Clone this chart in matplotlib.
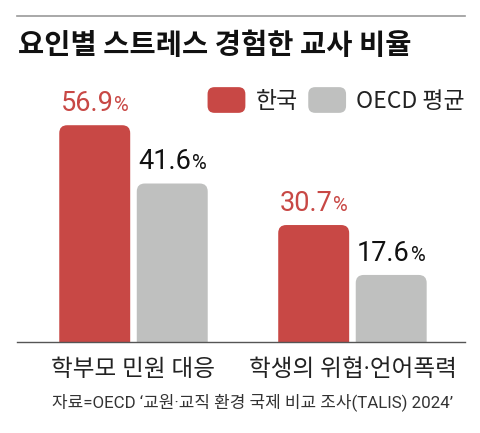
import matplotlib
matplotlib.use("Agg")
import matplotlib.pyplot as plt
from matplotlib.patches import FancyBboxPatch
from matplotlib.legend_handler import HandlerPatch
from matplotlib.offsetbox import TextArea, HPacker, AnnotationBbox
from matplotlib.lines import Line2D

plt.rcParams['font.family'] = ['Noto Sans CJK KR', 'DejaVu Sans']

title = "요인별 스트레스 경험한 교사 비율"
categories = ["학부모 민원 대응", "학생의 위협·언어폭력"]
series_names = ["한국", "OECD 평균"]
korea = [56.9, 30.7]
oecd = [41.6, 17.6]
source = "자료=OECD ‘교원·교직 환경 국제 비교 조사(TALIS) 2024’"

RED = "#C84845"
GRAY = "#BFC0BF"
W, H = 480, 433
fig = plt.figure(figsize=(4.8, 4.33), dpi=100)

ymax = 60
base_px = 342
ppu = 3.81
ax = fig.add_axes([17 / W, (H - base_px) / H, 448 / W, ymax * ppu / H])
ax.set_xlim(-0.532, 1.514)
ax.set_ylim(0, ymax)
for s in ["top", "right", "left"]:
    ax.spines[s].set_visible(False)
ax.spines["bottom"].set_color("#555555")
ax.spines["bottom"].set_linewidth(1.0)
ax.set_yticks([])
ax.set_xticks([])

bw = 0.324
off = 0.177
x = [0, 1]

xpu = 219.0  # px per x unit
r = 8 / xpu


def rbar(xc, val, color):
    bars = ax.bar([xc], [val], width=bw, color=color)
    b = bars[0]
    b.set_visible(False)
    p = FancyBboxPatch((b.get_x(), -5), b.get_width(), val + 5,
                       boxstyle=f"round,pad=0,rounding_size={r}",
                       mutation_aspect=xpu / ppu,
                       facecolor=color, edgecolor="none")
    ax.add_patch(p)
    p.set_clip_path(ax.patch)
    return p


NUMF = ["Roboto", "DejaVu Sans"]


def vlabel(xc, val, color):
    num = TextArea(f"{val:.1f}", textprops=dict(family=NUMF, size=19.5, color=color))
    pct = TextArea("%", textprops=dict(family=NUMF, size=14.5, color=color))
    box = HPacker(children=[num, pct], align="baseline", pad=0, sep=0.5)
    ab = AnnotationBbox(box, (xc, val), xybox=(0, 6), xycoords="data",
                        boxcoords="offset points", box_alignment=(0.5, 0),
                        frameon=False, pad=0)
    ax.add_artist(ab)


LABF = ["Roboto", "Noto Sans CJK KR"]

for i, xc in enumerate(x):
    rbar(xc - off, korea[i], RED)
    rbar(xc + off, oecd[i], GRAY)
    vlabel(xc - off, korea[i], RED)
    vlabel(xc + off, oecd[i], "#111111")
    ax.text(xc, -7.3, categories[i], ha="center", va="center", fontsize=17,
            color="#222222", clip_on=False, family=LABF)


class RoundHandler(HandlerPatch):
    def create_artists(self, legend, orig_handle, xdescent, ydescent, width,
                       height, fontsize, trans):
        p = FancyBboxPatch((-xdescent, -ydescent), width, height,
                           boxstyle="round,pad=0,rounding_size=5",
                           facecolor=orig_handle.get_facecolor(), edgecolor="none",
                           transform=trans)
        return [p]


h1 = FancyBboxPatch((0, 0), 1, 1, facecolor=RED, edgecolor="none")
h2 = FancyBboxPatch((0, 0), 1, 1, facecolor=GRAY, edgecolor="none")
leg = fig.legend([h1, h2], series_names, loc="center right",
                 bbox_to_anchor=(465 / W, 1 - 100 / H), ncol=2, frameon=False,
                 fontsize=16.5, handlelength=1.65, handleheight=1.35,
                 handletextpad=0.45, columnspacing=0.45, borderpad=0, borderaxespad=0,
                 handler_map={FancyBboxPatch: RoundHandler()})
for t in leg.get_texts():
    t.set_color("#222222")

fig.text(18 / W, 1 - 46 / H, title, fontsize=20.5, fontweight="bold",
         ha="left", va="center", color="#111111")
fig.add_artist(Line2D([17 / W, 465 / W], [1 - 16 / H, 1 - 16 / H],
                      transform=fig.transFigure, color="#999999", linewidth=1.2))
fig.text(52 / W, 1 - 402 / H, source, fontsize=12.2, ha="left", va="center",
         color="#333333", family=LABF)

fig.savefig("out.png", dpi=100)
